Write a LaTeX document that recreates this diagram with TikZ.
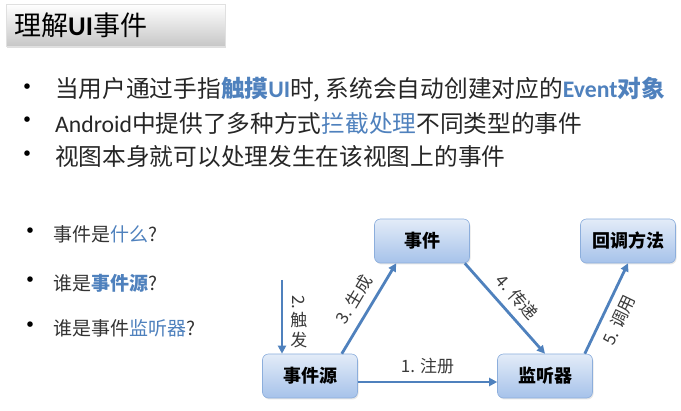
\documentclass[tikz,border=0pt]{standalone}
\usepackage{fontspec}
\usepackage{xcolor}
\usepackage{graphicx}
\setmainfont{Noto Sans CJK SC}
\newfontfamily\latin{Carlito}
\usetikzlibrary{shadows,arrows.meta,positioning}

\definecolor{hlblue}{HTML}{4F81BD}
\definecolor{arrowblue}{HTML}{4F81BD}
\definecolor{boxline}{HTML}{8CAEDC}
\definecolor{boxtop}{HTML}{E3ECF8}
\definecolor{boxbottom}{HTML}{A6C2EA}
\definecolor{labelgray}{HTML}{3A3A3A}

\begin{document}
\begin{tikzpicture}[
  x=1pt, y=-1pt,
  titlebox/.style={rectangle, draw=black!12, top color=white, bottom color=black!22,
            drop shadow={opacity=0.25, shadow xshift=1pt, shadow yshift=-2pt},
            anchor=west, text width=203pt, inner xsep=8pt, minimum height=42pt,
            font=\fontsize{27}{30}\selectfont},
  dot/.style={font=\fontsize{26}{28}\selectfont, inner sep=0pt},
  bigline/.style={anchor=west, inner sep=0pt, text=black!85, font=\fontsize{23.7}{28}\selectfont},
  smallline/.style={anchor=west, inner sep=0pt, text=black!80, font=\fontsize{19}{22}\selectfont},
  evbox/.style={rectangle, rounded corners=6pt, draw=boxline, semithick,
            top color=boxtop, bottom color=boxbottom,
            drop shadow={opacity=0.2, shadow xshift=1pt, shadow yshift=-1.5pt},
            minimum width=95pt, minimum height=44pt,
            font=\bfseries\fontsize{18}{22}\selectfont},
  flow/.style={draw=arrowblue, line width=2.8pt, ->, >={Triangle[length=8pt,width=8pt]}},
  steplabel/.style={text=labelgray, font=\fontsize{17}{19}\selectfont}
]
\useasboundingbox (0,0) rectangle (681,411);

% title
\node[titlebox] (title) at (6,25) {理解{\latin\bfseries UI}事件};

% upper bullet lines
\node[dot] (d1) at (28,90) {•};
\node[dot] (d2) at (28,123) {•};
\node[dot] (d3) at (28,157) {•};
\node[bigline] (l1) at (55,90) {当用户通过手指\textcolor{hlblue}{\bfseries 触摸{\latin UI}}时, 系统会自动创建对应的\textcolor{hlblue}{\bfseries{\latin Event}对象}};
\node[bigline] (l2) at (55,123) {{\latin Android}中提供了多种方式\textcolor{hlblue}{拦截处理}不同类型的事件};
\node[bigline] (l3) at (55,157) {视图本身就可以处理发生在该视图上的事件};

% questions
\node[dot] (q1d) at (30,234) {•};
\node[dot] (q2d) at (30,283) {•};
\node[dot] (q3d) at (30,328) {•};
\node[smallline] (q1) at (53,234) {事件是\textcolor{hlblue}{什么}?};
\node[smallline] (q2) at (53,283) {谁是\textcolor{hlblue}{\bfseries 事件源}?};
\node[smallline] (q3) at (53,328) {谁是事件\textcolor{hlblue}{监听器}?};

% diagram
\node[evbox] (evt) at (422,241) {事件};
\node[evbox] (cb) at (628,241) {回调方法};
\node[evbox] (src) at (310,376) {事件源};
\node[evbox] (lis) at (545,376) {监听器};
\coordinate (trig) at (282,280);

\draw[flow] (trig) -- (trig |- src.north)
  node[steplabel, midway, right=7pt, yshift=-5pt, align=center, inner sep=0pt, font=\fontsize{17}{20}\selectfont] (trlab) {\rotatebox{-90}{2.}\\[2pt]触\\发};
\draw[flow] ([yshift=-6pt]src.east) -- ([yshift=-6pt]lis.west)
  node[steplabel, midway, above=3pt] (reg) {1. 注册};
\draw[flow] ([xshift=-16pt]src.north east) -- ([xshift=22pt]evt.south west)
  node[steplabel, midway, sloped, above=5pt] (gen) {3. 生成};
\draw[flow] ([xshift=-5pt]evt.south east) -- (lis.north)
  node[steplabel, midway, sloped, above=4pt] (pass) {4. 传递};
\draw[flow] ([xshift=-8pt]lis.north east) -- (cb.south)
  node[steplabel, pos=0.45, sloped, below=4pt] (call) {5. 调用};

\end{tikzpicture}
\end{document}
